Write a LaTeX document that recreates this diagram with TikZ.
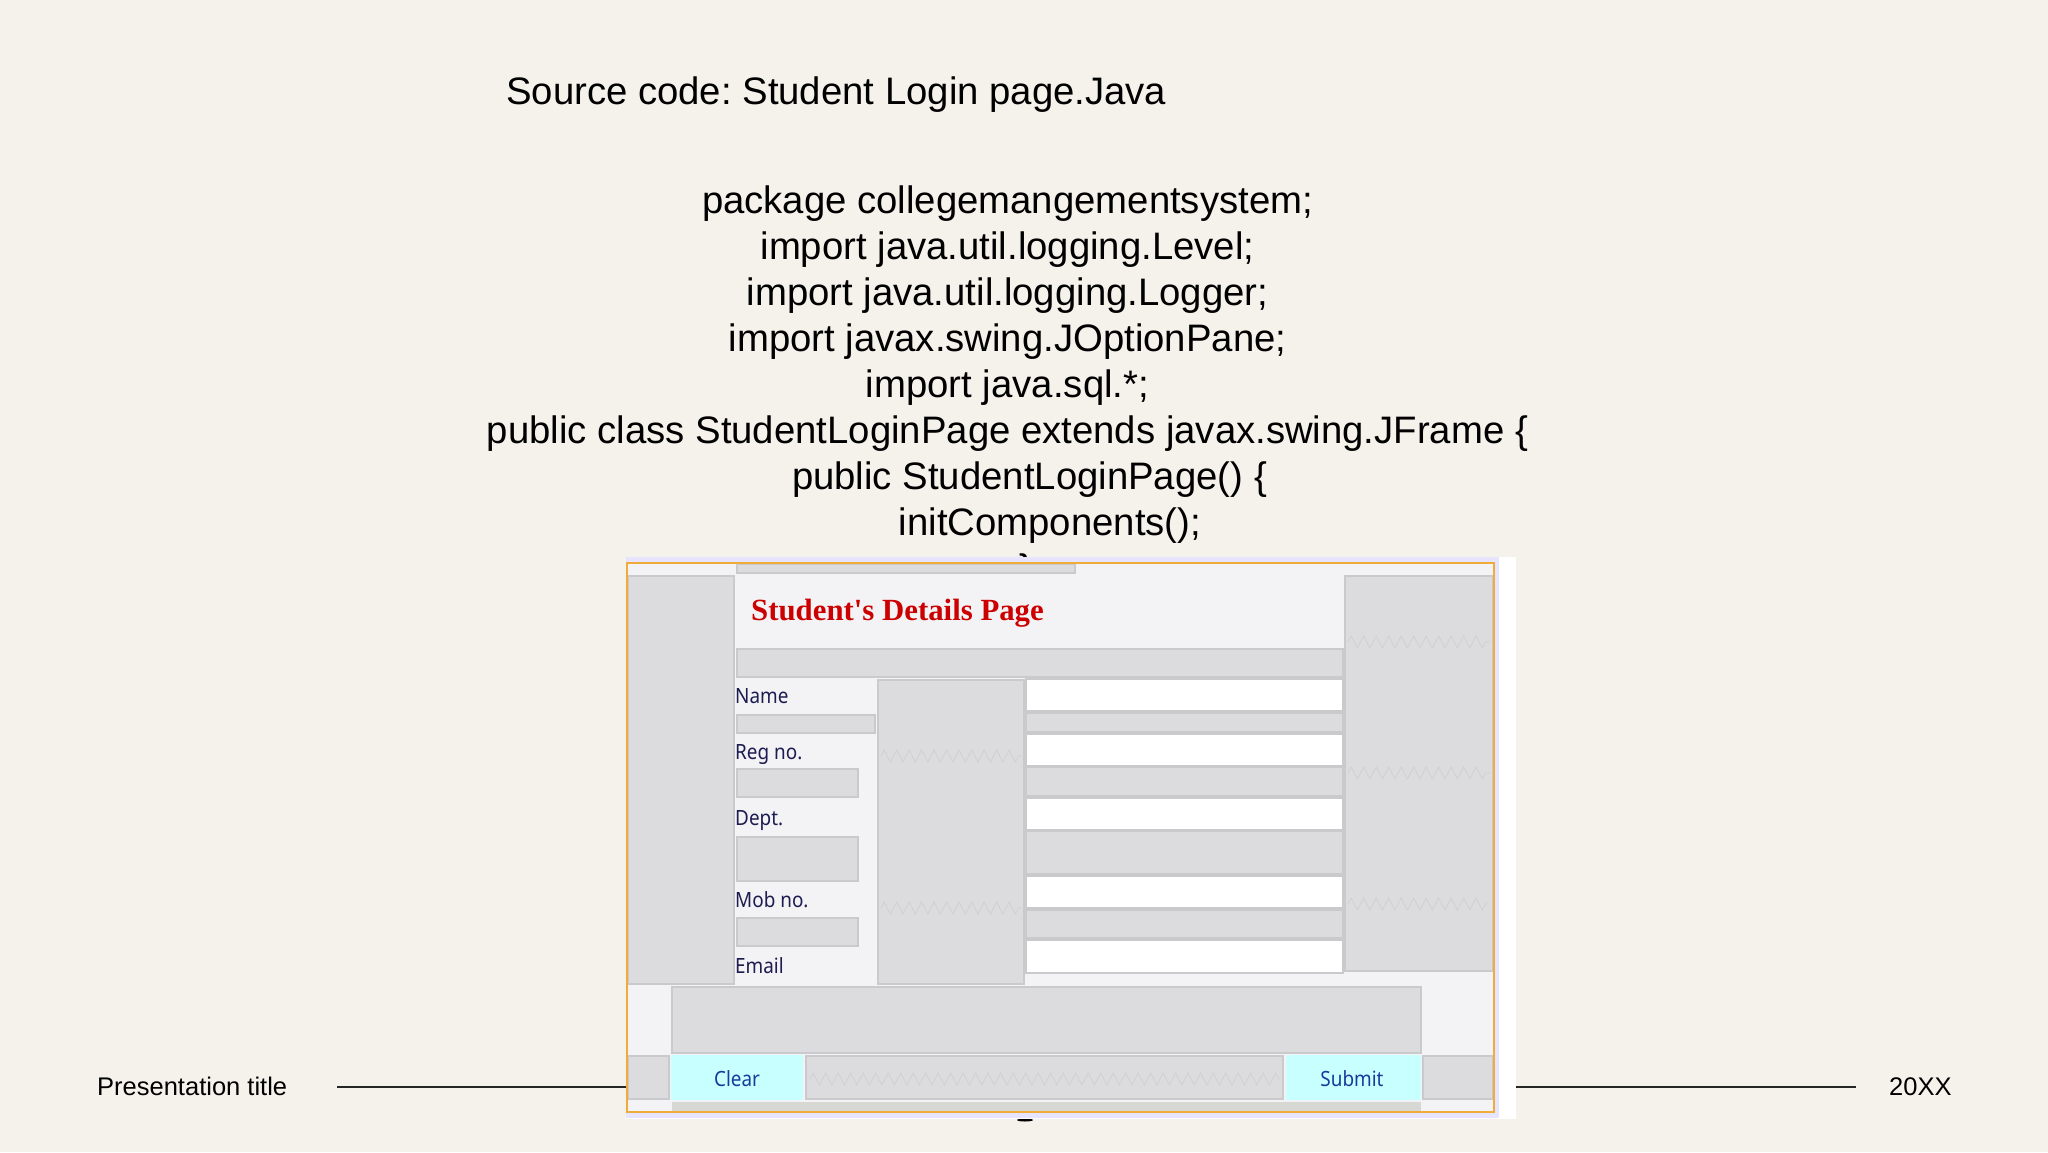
\documentclass[tikz,border=0pt]{standalone}
\usepackage{fontspec}
\usepackage{tikz}
\usetikzlibrary{decorations.pathmorphing}
\setmainfont{Liberation Sans}
\newfontfamily\pagefont{Liberation Serif}
\newfontfamily\formfont[FakeStretch=0.9]{Noto Sans}
\frenchspacing
\definecolor{slidebg}{HTML}{F5F2EC}
\definecolor{panelbg}{HTML}{F3F3F5}
\definecolor{greybox}{HTML}{DCDCDE}
\definecolor{greyedge}{HTML}{CACACC}
\definecolor{zigline}{HTML}{D0D0D2}
\definecolor{lavender}{HTML}{E6E4FF}
\definecolor{borderline}{HTML}{F0AC38}
\definecolor{btnfill}{HTML}{C8FFFF}
\definecolor{labelink}{HTML}{1C1C50}
\definecolor{btnink}{HTML}{1A3A9C}
\tikzset{
    codeline/.style={anchor=base,inner sep=0pt,font=\fontsize{38.3}{38.3}\selectfont},
    footline/.style={anchor=base west,inner sep=0pt,font=\fontsize{25.5}{25.5}\selectfont},
    formlabel/.style={anchor=base west,inner sep=0pt,text=labelink,font=\formfont\fontsize{21}{21}\selectfont},
    btnlabel/.style={anchor=base,inner sep=0pt,text=btnink,font=\formfont\fontsize{21}{21}\selectfont},
    graypanel/.style={fill=greybox,draw=greyedge,line width=1.2pt},
    inputbox/.style={fill=white,draw=greyedge,line width=1.2pt},
    zigmark/.style={draw=zigline,line width=.8pt,decorate,decoration={zigzag,segment length=12.5pt,amplitude=6pt}},
    btnbox/.style={fill=btnfill,draw=none,rounded corners=2pt}
}
\begin{document}
\begin{tikzpicture}[x=1pt,y=-1pt]
    \useasboundingbox[fill=slidebg] (0,0) rectangle (2048,1152);
    % slide text
    \node[anchor=base west,inner sep=0pt,font=\fontsize{38.3}{38.3}\selectfont] (heading) at (506,104) {Source code: Student Login page.Java};
    \foreach \Y/\X/\T in {213/1007.5/{package collegemangementsystem;},
        259/1007.5/{import java.util.logging.Level;},
        305/1007.5/{import java.util.logging.Logger;},
        351/1007.5/{import javax.swing.JOptionPane;},
        397/1007.5/{import java.sql.*;},
        443/1007.5/{public class StudentLoginPage extends javax.swing.JFrame \{},
        489/1029.5/{public StudentLoginPage() \{},
        535/1050/{initComponents();},
        581/1026/{\}}}
        \node[codeline] (code\Y) at (\X,\Y) {\T};
    \fill (1025,1120) ellipse (8 and 1.5);
    % footer
    \node[footline] (pres) at (97,1095) {Presentation title};
    \node[footline] (year) at (1889,1095) {20XX};
    \coordinate (ruleA) at (337,1087);
    \coordinate (ruleB) at (630,1087);
    \coordinate (ruleC) at (1510,1087);
    \coordinate (ruleD) at (1856,1087);
    \draw[line width=2pt,black!85] (ruleA) -- (ruleB);
    \draw[line width=2pt,black!85] (ruleC) -- (ruleD);
    % screenshot
    \fill[white] (626,557) rectangle (1516,1119);
    \fill[lavender] (626,557) rectangle (1499,1118);
    \fill[panelbg] (627,563) rectangle (1494,1112);
    \foreach \Xa/\Ya/\Xb/\Yb in {628/576/734/984,737/564/1075/573,737/649/1343/677,737/715/875/733,
        737/769/858/797,737/837/858/881,737/918/858/946,878/680/1024/984,1026/713/1343/732,
        1026/767/1343/796,1026/831/1343/874,1026/910/1343/938,1345/576/1493/971,672/987/1421/1053,
        628/1056/669/1099,806/1056/1283/1099,1423/1056/1493/1099}
        \draw[graypanel] (\Xa,\Ya) rectangle (\Xb,\Yb);
    \fill[greybox!95!olive] (672,1102) rectangle (1421,1111);
    \foreach \Ya/\Yb in {679/711,734/766,798/830,876/908,940/973}
        \draw[inputbox] (1026,\Ya) rectangle (1343,\Yb);
    \foreach \Xa/\Xb/\Y in {881/1022/756,881/1022/908,1348/1490/642,1348/1490/773,1348/1490/904,810/1280/1079}
        \draw[zigmark] (\Xa,\Y) -- (\Xb,\Y);
    \draw[borderline,line width=2pt] (627,563) rectangle (1494,1112);
    % form
    \node[anchor=base west,inner sep=0pt,text=red!80!black,font=\pagefont\bfseries\fontsize{30.8}{30.8}\selectfont] (pagetitle) at (751,620) {Student's Details Page};
    \foreach \Y/\T in {703/Name,759/Reg no.,825/Dept.,907/Mob no.,973/Email}
        \node[formlabel] (lbl\Y) at (735,\Y) {\T};
    \draw[btnbox] (671,1055) rectangle (803,1100);
    \draw[btnbox] (1286,1055) rectangle (1421,1100);
    \node[btnlabel] (clear) at (737,1086) {Clear};
    \node[btnlabel] (submit) at (1352,1086) {Submit};
\end{tikzpicture}
\end{document}
